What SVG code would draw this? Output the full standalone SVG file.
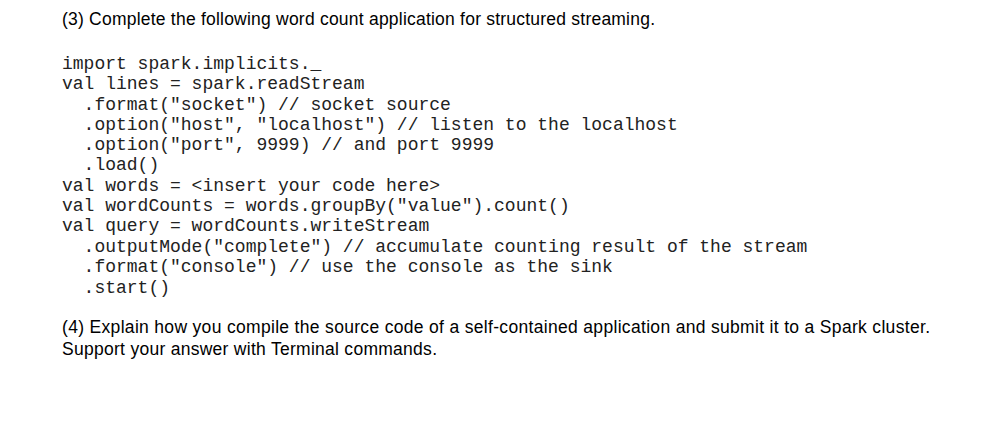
<svg xmlns="http://www.w3.org/2000/svg" width="988" height="427" viewBox="0 0 988 427">
<style>
.h{font-family:"Liberation Sans",Arial,sans-serif;font-size:17.5px;fill:#000}
.c{font-family:"Liberation Mono","Courier New",monospace;font-size:18px;fill:#222;white-space:pre}
</style>
<rect width="988" height="427" fill="#fff"/>
<text class="h" x="62" y="25" textLength="593">(3) Complete the following word count application for structured streaming.</text>
<g xml:space="preserve">
<text class="c" x="62" y="69">import spark.implicits._</text>
<text class="c" x="62" y="89">val lines = spark.readStream</text>
<text class="c" x="62" y="110">  .format("socket") // socket source</text>
<text class="c" x="62" y="130">  .option("host", "localhost") // listen to the localhost</text>
<text class="c" x="62" y="150">  .option("port", 9999) // and port 9999</text>
<text class="c" x="62" y="170">  .load()</text>
<text class="c" x="62" y="191">val words = &lt;insert your code here&gt;</text>
<text class="c" x="62" y="211">val wordCounts = words.groupBy("value").count()</text>
<text class="c" x="62" y="231">val query = wordCounts.writeStream</text>
<text class="c" x="62" y="252">  .outputMode("complete") // accumulate counting result of the stream</text>
<text class="c" x="62" y="272">  .format("console") // use the console as the sink</text>
<text class="c" x="62" y="293">  .start()</text>
</g>
<text class="h" x="62" y="333" textLength="868">(4) Explain how you compile the source code of a self-contained application and submit it to a Spark cluster.</text>
<text class="h" x="62" y="355" textLength="375">Support your answer with Terminal commands.</text>
</svg>
